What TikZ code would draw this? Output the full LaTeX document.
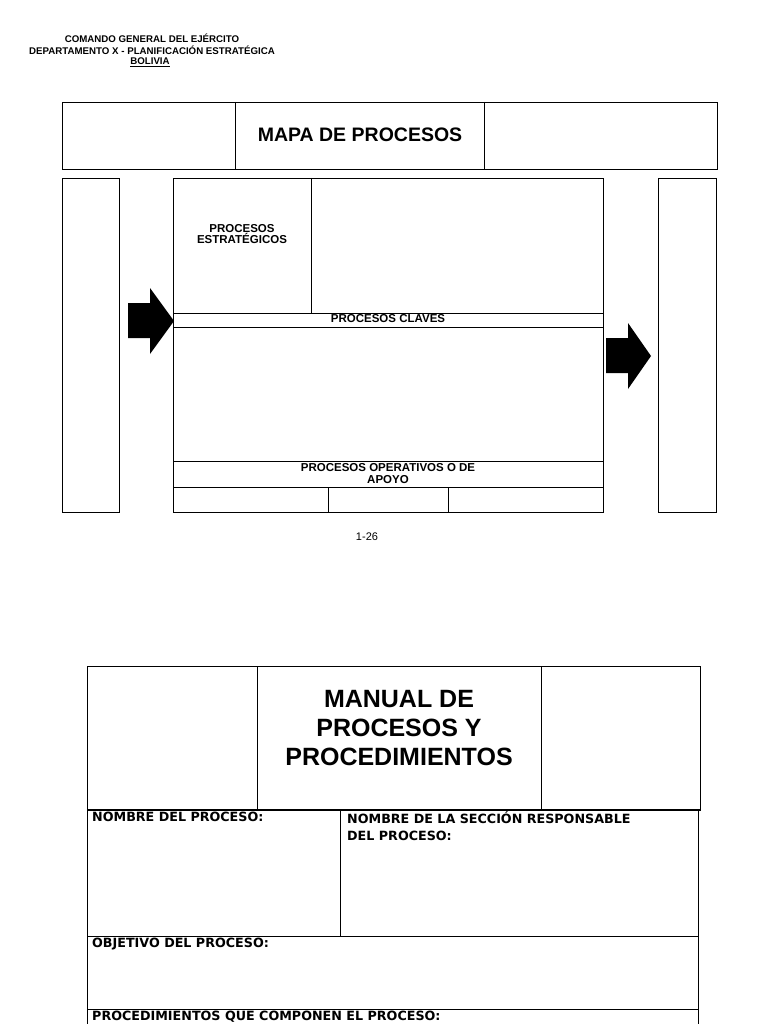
\documentclass[tikz,border=0pt]{standalone}
\usepackage{fontspec}
\setmainfont{Liberation Sans}
\newfontfamily\dvs{DejaVu Sans}
\begin{document}
\begin{tikzpicture}[x=1pt,y=-1pt,
  ln/.style={draw=black,line width=0.7pt},
  hd/.style={font=\fontsize{9.7}{11}\selectfont\bfseries,align=center},
  sm/.style={font=\fontsize{11.5}{11.5}\selectfont\bfseries,align=center},
  lb/.style={font=\dvs\fontsize{12.7}{14}\selectfont\bfseries,anchor=north west,align=left,inner sep=0pt},
  arr/.style={fill=black}]
\useasboundingbox (0,0) rectangle (768,1024);
\node[hd] (h1) at (152,38) {COMANDO GENERAL DEL EJÉRCITO};
\node[hd] (h2) at (152,50) {DEPARTAMENTO X - PLANIFICACIÓN ESTRATÉGICA};
\node[hd] (h3) at (150,62) {\underline{BOLIVIA}};
% top box
\draw[ln] (62,102) rectangle (717,169);
\draw[ln] (235,102) -- (235,169) (484,102) -- (484,169);
\node[font=\fontsize{19.5}{21}\selectfont\bfseries] (t1) at (360,135) {MAPA DE PROCESOS};
% side boxes
\draw[ln] (62,178) rectangle (119,512);
\draw[ln] (658,178) rectangle (716,512);
% middle
\draw[ln] (173,178) rectangle (603,512);
\draw[ln] (311,178) -- (311,313);
\draw[ln] (173,313) -- (603,313) (173,327) -- (603,327) (173,461) -- (603,461) (173,487) -- (603,487);
\draw[ln] (328,487) -- (328,512) (448,487) -- (448,512);
\node[sm] (pe) at (242,234) {PROCESOS\\ESTRATÉGICOS};
\node[sm] (pc) at (388,319) {PROCESOS CLAVES};
\node[sm] (po) at (388,473.5) {PROCESOS OPERATIVOS O DE\\APOYO};
% arrows
\fill[arr] (128,303) -- (150,303) -- (150,288) -- (174,321) -- (150,354) -- (150,338) -- (128,338) -- cycle;
\fill[arr] (606,338) -- (628,338) -- (628,323) -- (651,356) -- (628,389) -- (628,373) -- (606,373) -- cycle;
\node[font=\fontsize{11}{12}\selectfont] (pg) at (367,537) {1-26};
% manual
\draw[ln] (87,666) rectangle (700,810);
\draw[ln] (257,666) -- (257,810) (541,666) -- (541,810);
\node[font=\fontsize{25}{29}\selectfont\bfseries,align=center] (m) at (399,728) {MANUAL DE\\PROCESOS Y\\PROCEDIMIENTOS};
\draw[line width=1.6pt] (87,810) -- (700,810);
\draw[ln] (87,810) -- (87,1030) (698,810) -- (698,1030);
\draw[ln] (340,810) -- (340,936);
\draw[ln] (87,936) -- (698,936) (87,1009) -- (698,1009);
\node[lb] (n1) at (92,812) {NOMBRE DEL PROCESO:};
\node[lb] (n2) at (347,812) {NOMBRE DE LA SECCIÓN RESPONSABLE\\[3pt]DEL PROCESO:};
\node[lb] (n3) at (92,938) {OBJETIVO DEL PROCESO:};
\node[lb] (n4) at (92,1011) {PROCEDIMIENTOS QUE COMPONEN EL PROCESO:};
\end{tikzpicture}
\end{document}
